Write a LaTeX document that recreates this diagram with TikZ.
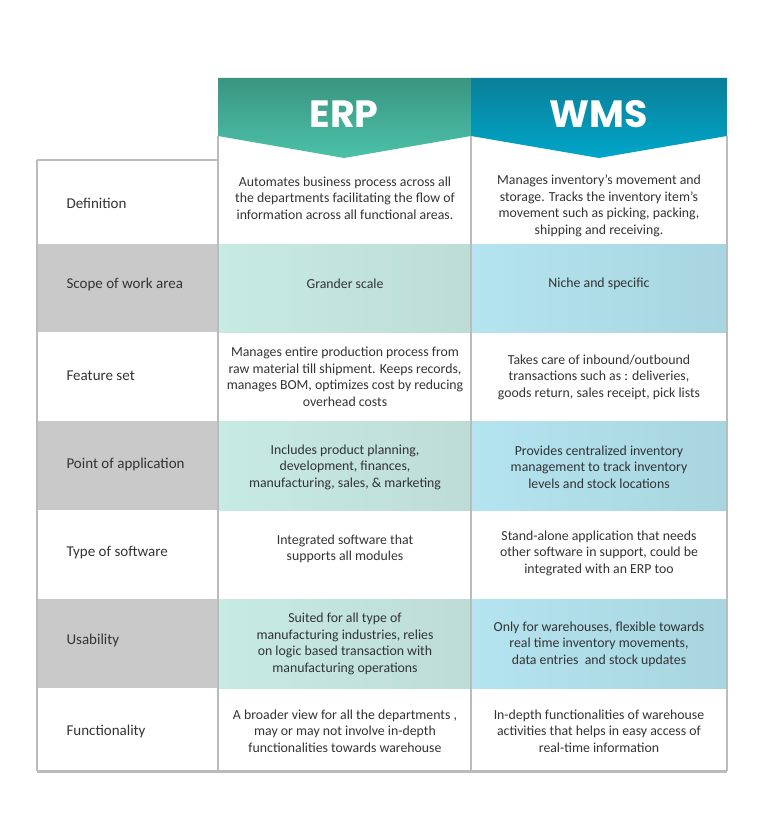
\documentclass[tikz,border=0pt]{standalone}
\usepackage{fontspec}
\setmainfont{Carlito}
\newfontfamily\hdfont{Poppins}
\definecolor{txt}{HTML}{333333}
\definecolor{grid}{HTML}{BBBBBB}
\definecolor{lab}{HTML}{C9C9C9}
\definecolor{ea}{HTML}{C6EBE3}\definecolor{eb}{HTML}{BEDCD6}
\definecolor{wa}{HTML}{B4E4F0}\definecolor{wb}{HTML}{A8D5DF}
\definecolor{eh1}{HTML}{3A9580}\definecolor{eh2}{HTML}{4CC1A9}
\definecolor{wh1}{HTML}{0A7F98}\definecolor{wh2}{HTML}{00A6C9}
\begin{document}
\begin{tikzpicture}[x=1pt,y=-1pt,
  cell/.style={text=txt,align=center,font=\fontsize{13.8}{16.5}\selectfont},
  lbl/.style={text=txt,anchor=west,font=\fontsize{15}{17}\selectfont},
  hd/.style={text=white,font=\hdfont\bfseries\fontsize{38}{40}\selectfont}]
\useasboundingbox (0,0) rectangle (768,832);
% shaded rows
\foreach \a/\b in {244/332,421/510,599/688}{
  \fill[lab] (37,\a) rectangle (218,\b);
  \shade[left color=ea,right color=eb] (218,\a) rectangle (471,\b);
  \shade[left color=wa,right color=wb] (471,\a) rectangle (727,\b);
}
% headers
\shade[top color=eh1,bottom color=eh2] (218,78) -- (471,78) -- (471,136) -- (344,158) -- (218,136) -- cycle;
\shade[top color=wh1,bottom color=wh2] (471,78) -- (727,78) -- (727,136) -- (599,158) -- (471,136) -- cycle;
\node[hd] (erp) at (344,114) {ERP};
\node[hd] (wms) at (599,114) {WMS};
% grid lines
\draw[grid,line width=2pt] (37,160) -- (218,160);
\draw[grid,line width=2pt] (37,160) -- (37,771);
\draw[grid,line width=2pt] (218,136) -- (218,771);
\draw[grid,line width=2pt] (471,136) -- (471,771);
\draw[grid,line width=2pt] (727,136) -- (727,771);
\draw[grid,line width=3pt] (37,771) -- (727,771);
% labels
\node[lbl] (l1) at (63,203) {Definition};
\node[lbl] (l2) at (63,284) {Scope of work area};
\node[lbl] (l3) at (63,376) {Feature set};
\node[lbl] (l4) at (63,464) {Point of application};
\node[lbl] (l5) at (63,553) {Type of software};
\node[lbl] (l6) at (63,640) {Usability};
\node[lbl] (l7) at (63,731) {Functionality};
% ERP
\node[cell] (e1) at (345,198) {Automates business process across all\\the departments facilitating the flow of\\information across all functional areas.};
\node[cell] (e2) at (345,284) {Grander scale};
\node[cell] (e3) at (345,377) {Manages entire production process from\\raw material till shipment. Keeps records,\\manages BOM, optimizes cost by reducing\\overhead costs};
\node[cell] (e4) at (345,467) {Includes product planning,\\development, finances,\\manufacturing, sales, \& marketing};
\node[cell] (e5) at (345,549) {Integrated software that\\supports all modules};
\node[cell] (e6) at (345,644) {Suited for all type of\\manufacturing industries, relies\\on logic based transaction with\\manufacturing operations};
\node[cell] (e7) at (345,731) {A broader view for all the departments ,\\may or may not involve in-depth\\functionalities towards warehouse};
% WMS
\node[cell] (w1) at (599,206) {Manages inventory's movement and\\storage. Tracks the inventory item's\\movement such as picking, packing,\\shipping and receiving.};
\node[cell] (w2) at (599,284) {Niche and specific};
\node[cell] (w3) at (599,377) {Takes care of inbound/outbound\\transactions such as : deliveries,\\goods return, sales receipt, pick lists};
\node[cell] (w4) at (599,467) {Provides centralized inventory\\management to track inventory\\levels and stock locations};
\node[cell] (w5) at (599,553) {Stand-alone application that needs\\other software in support, could be\\integrated with an ERP too};
\node[cell] (w6) at (599,644) {Only for warehouses, flexible towards\\real time inventory movements,\\data entries\ \ and stock updates};
\node[cell] (w7) at (599,731) {In-depth functionalities of warehouse\\activities that helps in easy access of\\real-time information};
\end{tikzpicture}
\end{document}
